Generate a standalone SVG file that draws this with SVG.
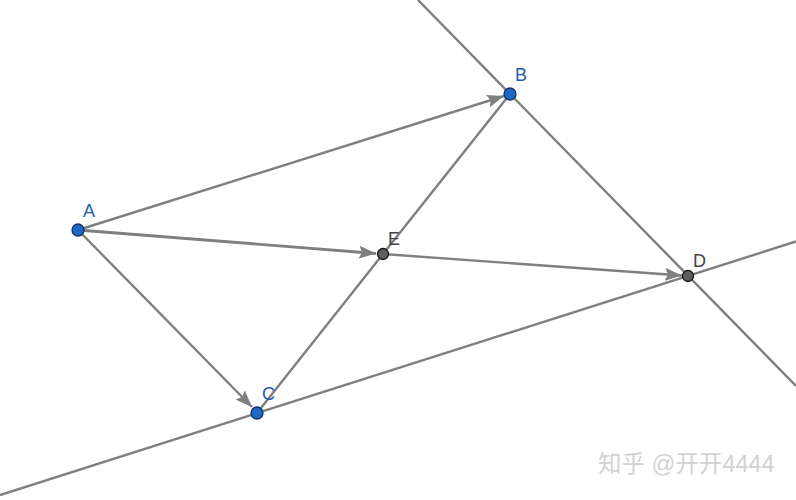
<svg xmlns="http://www.w3.org/2000/svg" width="796" height="500" viewBox="0 0 796 500">
<style>
.ln{stroke:#7f7f7f;stroke-width:2.4;fill:none}
.vec{stroke:#7f7f7f;stroke-width:2.4;fill:none;marker-end:url(#ah)}
.pb{fill:#1f68c2;stroke:#12316b;stroke-width:1.3}
.pg{fill:#5f5f5f;stroke:#111;stroke-width:1.3}
.lb{font-family:"Liberation Sans",Arial,sans-serif;font-size:18px;fill:#1f5ea8}
.lg{font-family:"Liberation Sans",Arial,sans-serif;font-size:18px;fill:#444}
.wm{font-family:"Liberation Sans","Noto Sans CJK SC",sans-serif;font-size:23.5px;fill:#d2d2d2}
</style>
<defs>
<marker id="ah" viewBox="0 0 17 13" refX="17" refY="6.5" markerWidth="17" markerHeight="13" markerUnits="userSpaceOnUse" orient="auto">
<path d="M0,0 L17,6.5 L0,13 L3,6.5 Z" fill="#7f7f7f"/>
</marker>
</defs>
<rect width="796" height="500" fill="#fff"/>
<g id="connectors">
<line class="ln" x1="418" y1="0" x2="796" y2="386"/>
<line class="ln" x1="0" y1="495" x2="796" y2="241.5"/>
<line class="vec" x1="78" y1="230" x2="504" y2="96"/>
<line class="vec" x1="78" y1="230" x2="376" y2="253.5" style="stroke-width:2.9"/>
<line class="vec" x1="78" y1="230" x2="252" y2="407"/>
<line class="ln" x1="383" y1="254" x2="510" y2="94"/>
<line class="ln" x1="383" y1="254" x2="257" y2="413"/>
<line class="vec" x1="383" y1="254" x2="682" y2="275.5"/>
</g>
<g id="A"><circle class="pb" cx="78" cy="230" r="6"/><text class="lb" x="83" y="217">A</text></g>
<g id="B"><circle class="pb" cx="510" cy="94" r="6"/><text class="lb" x="515" y="81">B</text></g>
<g id="C"><circle class="pb" cx="257" cy="413" r="6"/><text class="lb" x="262" y="400">C</text></g>
<g id="D"><circle class="pg" cx="688" cy="276" r="5.5"/><text class="lg" x="693" y="267">D</text></g>
<g id="E"><circle class="pg" cx="383" cy="254" r="5.5"/><text class="lg" x="388" y="245">E</text></g>
<g id="watermark"><text class="wm" x="598" y="472">知乎 @开开4444</text></g>
</svg>
